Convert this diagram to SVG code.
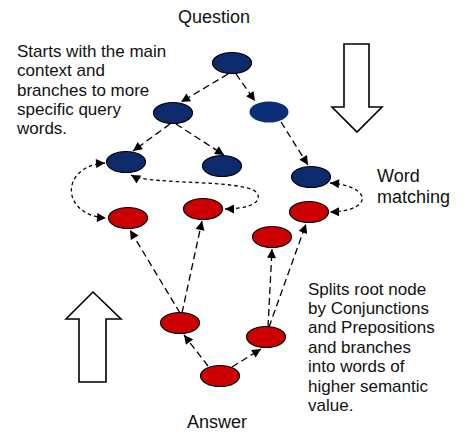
<svg xmlns="http://www.w3.org/2000/svg" width="474" height="445" viewBox="0 0 474 445">
<style>
.t{font-family:"Liberation Sans",Arial,sans-serif;fill:#111}
.b{fill:#0c2a6c;stroke:#000;stroke-width:1.2}
.r{fill:#cc0000;stroke:#000;stroke-width:1.2}
.e{fill:none;stroke:#000;stroke-width:1.3;stroke-dasharray:7,4;marker-end:url(#ah)}
.w{fill:none;stroke:#000;stroke-width:1.3;stroke-dasharray:3.5,3;marker-start:url(#ah);marker-end:url(#ah)}
.big{fill:#fff;stroke:#000;stroke-width:1.6}
</style>
<defs>
<marker id="ah" viewBox="0 0 10 10" refX="10" refY="5" markerUnits="userSpaceOnUse" markerWidth="10" markerHeight="9" orient="auto-start-reverse">
<path d="M0,0 L10,5 L0,10 z" fill="#000"/>
</marker>
</defs>
<rect width="474" height="445" fill="#fff"/>
<text class="t" x="214" y="23" font-size="18" text-anchor="middle">Question</text>
<text class="t" x="217" y="428" font-size="18" text-anchor="middle">Answer</text>
<g id="text-left" class="t" font-size="17">
<text x="17" y="57">Starts with the main</text>
<text x="17" y="76">context and</text>
<text x="17" y="96">branches to more</text>
<text x="17" y="115">specific query</text>
<text x="17" y="134">words.</text>
</g>
<g id="text-word" class="t" font-size="18">
<text x="377" y="182">Word</text>
<text x="377" y="203">matching</text>
</g>
<g id="text-right" class="t" font-size="17">
<text x="308" y="295">Splits root node</text>
<text x="308" y="314">by Conjunctions</text>
<text x="308" y="333">and Prepositions</text>
<text x="308" y="353">and branches</text>
<text x="308" y="372">into words of</text>
<text x="308" y="392">higher semantic</text>
<text x="308" y="411">value.</text>
</g>
<g id="arrow-down"><path class="big" d="M344,44 L369,44 L369,107 L382,107 L357,132 L332,107 L344,107 Z"/></g>
<g id="arrow-up"><path class="big" d="M93,292 L121,319 L106,319 L106,382 L79,382 L79,319 L66,319 Z"/></g>
<g id="connectors">
<path class="e" d="M228,74 L181,102"/>
<path class="e" d="M236,74 L255,101"/>
<path class="e" d="M170,124 L133,151"/>
<path class="e" d="M176,124 L224,155"/>
<path class="e" d="M281,122 L308,165"/>
<path class="e" d="M208,366 L184,335"/>
<path class="e" d="M232,367 L261,349"/>
<path class="e" d="M180,313 L130,230"/>
<path class="e" d="M182,313 L202,221"/>
<path class="e" d="M268,327 L272,249"/>
<path class="e" d="M269,327 L306,224"/>
<path class="w" d="M105,163 C60,166 60,215 106,218"/>
<path class="w" d="M131,175 C150,186 254,178 258,195 C261,205 242,209 225,209"/>
<path class="w" d="M330,183 C372,186 374,211 330,212"/>
</g>
<g id="q1"><ellipse class="b" cx="232" cy="63" rx="19.5" ry="10.5"/></g>
<g id="q2"><ellipse class="b" cx="173" cy="113" rx="19.5" ry="10.5"/></g>
<g id="q3"><ellipse cx="269" cy="112" rx="19.5" ry="10.5" fill="#0c2e76"/></g>
<g id="q4"><ellipse class="b" cx="126" cy="162" rx="19.5" ry="10.5"/></g>
<g id="q5"><ellipse class="b" cx="222" cy="166" rx="19.5" ry="10.5"/></g>
<g id="q6"><ellipse class="b" cx="311" cy="177" rx="19.5" ry="10.5"/></g>
<g id="a1"><ellipse class="r" cx="128" cy="218" rx="19.5" ry="10.5"/></g>
<g id="a2"><ellipse class="r" cx="203" cy="209" rx="19.5" ry="10.5"/></g>
<g id="a3"><ellipse class="r" cx="309" cy="212" rx="19.5" ry="10.5"/></g>
<g id="a4"><ellipse class="r" cx="272" cy="237" rx="19.5" ry="10.5"/></g>
<g id="a5"><ellipse class="r" cx="180" cy="323" rx="19.5" ry="10.5"/></g>
<g id="a6"><ellipse class="r" cx="266" cy="337" rx="19.5" ry="10.5"/></g>
<g id="a7"><ellipse class="r" cx="220" cy="376" rx="19.5" ry="10.5"/></g>
</svg>
